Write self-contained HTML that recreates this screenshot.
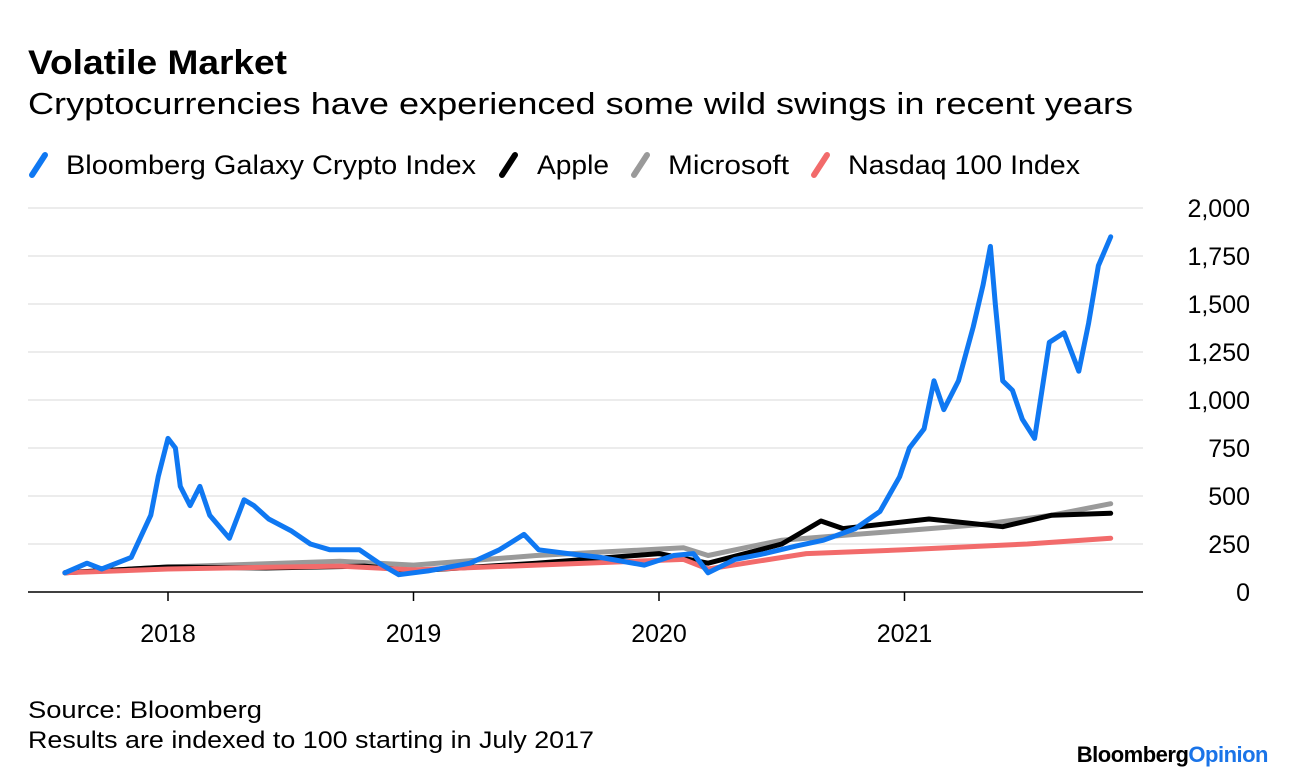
<!DOCTYPE html>
<html><head><meta charset="utf-8">
<style>
body{margin:0;background:#fff;width:1296px;height:778px;overflow:hidden;font-family:"Liberation Sans",Arial,sans-serif;}
svg{position:absolute;left:0;top:0}
</style></head>
<body>
<svg id="chart" width="1296" height="778">
<text x="28" y="74" font-size="34" font-weight="bold" fill="#000" textLength="259" lengthAdjust="spacingAndGlyphs">Volatile Market</text>
<text x="28" y="114" font-size="31" fill="#000" textLength="1105" lengthAdjust="spacingAndGlyphs">Cryptocurrencies have experienced some wild swings in recent years</text>
<g id="legend"></g>
<g id="grid"></g>
<g id="series"></g>
<text x="28" y="718" font-size="24" fill="#000" textLength="234" lengthAdjust="spacingAndGlyphs">Source: Bloomberg</text>
<text x="28" y="748" font-size="24" fill="#000" textLength="566" lengthAdjust="spacingAndGlyphs">Results are indexed to 100 starting in July 2017</text>
<text x="1268" y="762" font-size="22" font-weight="bold" text-anchor="end" letter-spacing="-0.5"><tspan fill="#000">Bloomberg</tspan><tspan fill="#1a74e8">Opinion</tspan></text>
</svg>
<script>
const yTicks=[0,250,500,750,1000,1250,1500,1750,2000];
const yTickLabels=["0","250","500","750","1,000","1,250","1,500","1,750","2,000"];
const xTicks=[2018,2019,2020,2021];
const seriesNames=["Bloomberg Galaxy Crypto Index","Apple","Microsoft","Nasdaq 100 Index"];
const seriesColors=["#0f78f2","#000000","#9a9a9a","#f26b6b"];
const cryptoT=[2017.58,2017.67,2017.73,2017.85,2017.93,2017.96,2018.0,2018.03,2018.05,2018.09,2018.13,2018.17,2018.25,2018.31,2018.35,2018.41,2018.5,2018.58,2018.66,2018.78,2018.86,2018.94,2019.06,2019.23,2019.35,2019.45,2019.51,2019.63,2019.76,2019.94,2020.06,2020.14,2020.2,2020.31,2020.43,2020.56,2020.67,2020.8,2020.9,2020.98,2021.02,2021.08,2021.12,2021.16,2021.22,2021.28,2021.32,2021.35,2021.37,2021.4,2021.44,2021.48,2021.53,2021.59,2021.65,2021.71,2021.75,2021.79,2021.84];
const cryptoV=[100,150,120,180,400,600,800,750,550,450,550,400,280,480,450,380,320,250,220,220,150,90,110,150,220,300,220,200,180,140,190,200,100,170,200,240,270,330,420,600,750,850,1100,950,1100,1380,1600,1800,1500,1100,1050,900,800,1300,1350,1150,1400,1700,1850];
const appleT=[2017.58,2018.0,2018.4,2018.8,2019.0,2019.5,2020.0,2020.2,2020.5,2020.66,2020.75,2021.1,2021.4,2021.6,2021.84];
const appleV=[100,130,125,135,110,150,200,150,250,370,330,380,340,400,410];
const msftT=[2017.58,2018.0,2018.7,2019.0,2019.5,2020.1,2020.2,2020.5,2020.8,2021.0,2021.3,2021.6,2021.84];
const msftV=[100,130,160,140,190,230,190,270,300,320,350,400,460];
const ndxT=[2017.58,2018.0,2018.7,2019.0,2019.5,2020.1,2020.2,2020.6,2021.0,2021.5,2021.84];
const ndxV=[100,120,135,115,140,170,120,200,220,250,280];

const X0=168,PX=245.5;
function xs(t){return X0+(t-2018)*PX;}
function ys(v){return 592-v*0.192;}
const NS="http://www.w3.org/2000/svg";
function mk(tag,attrs,parent){const e=document.createElementNS(NS,tag);for(const k in attrs)e.setAttribute(k,attrs[k]);parent.appendChild(e);return e;}
const grid=document.getElementById('grid');
yTicks.forEach((v,i)=>{
  const l=mk('line',{x1:28,x2:1143,y1:ys(v),y2:ys(v),stroke:v===0?'#000':'#ececec','stroke-width':v===0?1.5:2},grid);
  
  
  const t=mk('text',{x:1250,y:ys(v)+9,'font-size':25,'text-anchor':'end',fill:'#000'},grid);
  t.textContent=yTickLabels[i];
  
  
});
xTicks.forEach(y=>{
  const l=mk('line',{x1:xs(y),x2:xs(y),y1:592,y2:601,stroke:'#000','stroke-width':1.5},grid);
  
  
  const t=mk('text',{x:xs(y),y:642,'font-size':25,'text-anchor':'middle',fill:'#000'},grid);
  t.textContent=y;
  
  
});
const ser=document.getElementById('series');
const data=[[msftT,msftV],[appleT,appleV],[ndxT,ndxV],[cryptoT,cryptoV]];
const idx=[2,1,3,0];
data.forEach((d,k)=>{
  const i=idx[k];
  const pts=d[0].map((t,j)=>xs(t).toFixed(1)+','+ys(d[1][j]).toFixed(1)).join(' ');
  const p=mk('polyline',{points:pts,fill:'none',stroke:seriesColors[i],'stroke-width':5,'stroke-linejoin':'round','stroke-linecap':'round'},ser);
  
  
});
const leg=document.getElementById('legend');
const legX=[30,500,632,812];
const legTextX=[66,537,668,848];
const legTextW=[410,72,121,232];
seriesNames.forEach((n,i)=>{
  const l=mk('line',{x1:legX[i]+2,y1:175,x2:legX[i]+15,y2:155,stroke:seriesColors[i],'stroke-width':6,'stroke-linecap':'round'},leg);
  
  
  const t=mk('text',{x:legTextX[i],y:174,'font-size':27,fill:'#000',textLength:legTextW[i],lengthAdjust:'spacingAndGlyphs'},leg);
  t.textContent=n;
  
  
});
</script>
</body></html>
